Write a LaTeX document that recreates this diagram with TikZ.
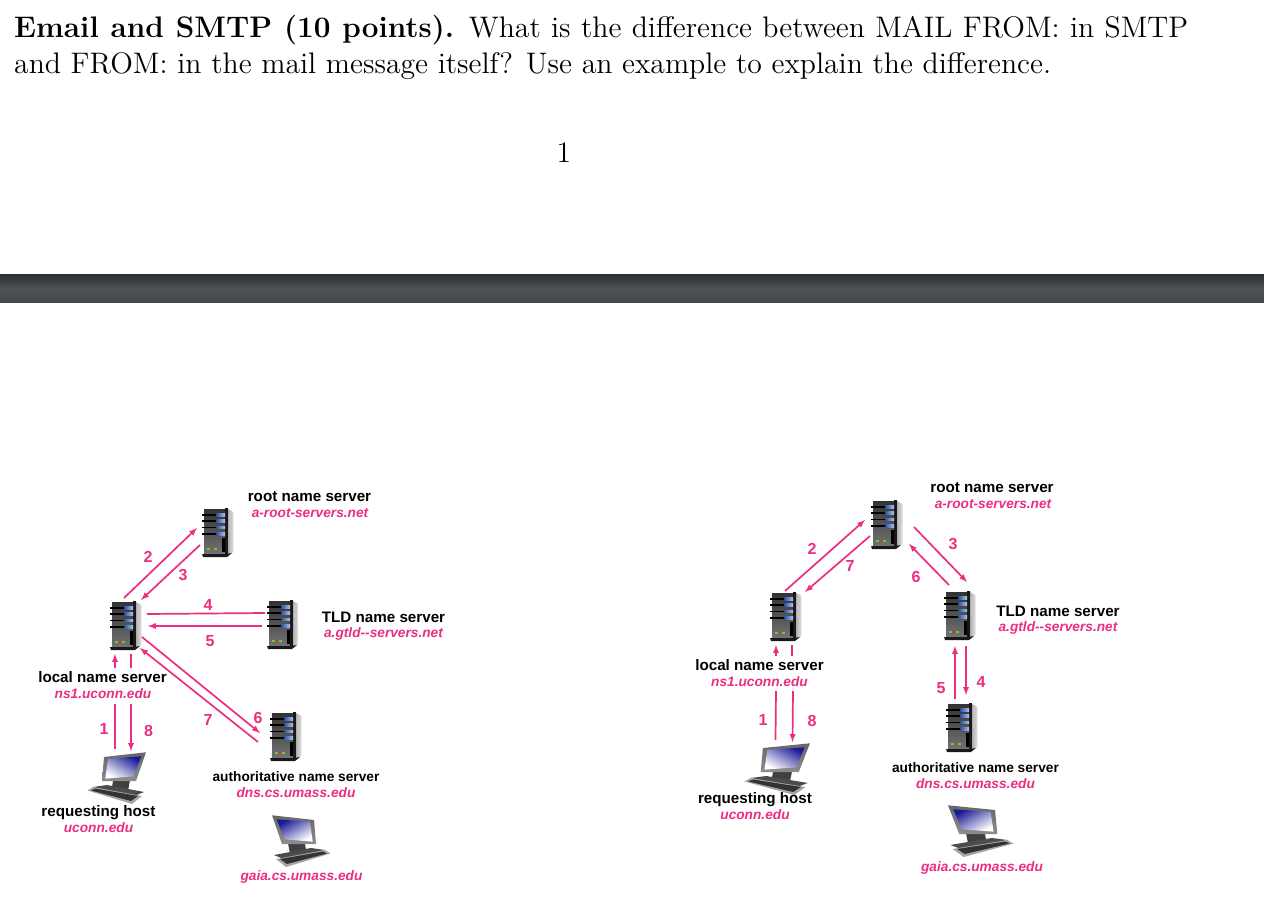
\documentclass[tikz,border=0pt]{standalone}
\usepackage{fontspec}
\usetikzlibrary{arrows,positioning,calc}
\newfontfamily\labelfont{Liberation Sans}
\newfontfamily\examfont{lmroman12-regular.otf}[BoldFont=lmroman12-bold.otf]
\definecolor{dnspink}{RGB}{236,46,130}
\definecolor{bandmid}{RGB}{78,82,85}
\definecolor{banddark}{RGB}{44,46,49}
\definecolor{slotblue}{RGB}{60,110,225}
\definecolor{screenblue}{RGB}{25,25,150}
\definecolor{ledgreen}{RGB}{95,205,70}
\definecolor{ledred}{RGB}{225,50,40}
\tikzset{
    hostname/.style={font=\labelfont\bfseries\fontsize{15.2}{17}\selectfont, text=black, inner sep=0pt},
    authname/.style={font=\labelfont\bfseries\fontsize{13.7}{15}\selectfont, text=black, inner sep=0pt},
    domainlabel/.style={font=\labelfont\bfseries\itshape\fontsize{13.7}{15}\selectfont, text=dnspink, inner sep=0pt},
    stepnum/.style={font=\labelfont\bfseries\fontsize{16}{18}\selectfont, text=dnspink, inner sep=0pt},
    msg/.style={draw=dnspink, line width=1.7pt},
    msgarrow/.style={msg, -latex},
    spot/.style={inner sep=0pt, minimum width=30pt, minimum height=48pt},
    servericon/.pic={
        % side panel, front panel, foot
        \shade[left color=gray!80, right color=gray!20] (9,-24) -- (16.5,-20) -- (16.5,20) -- (9,24) -- cycle;
        \fill[gray!45] (11.5,-18) rectangle (15,-13);
        \fill[gray!45] (11.5,-11) rectangle (15,-6);
        \fill[gray!45] (11.5,-4) rectangle (15,1);
        \shade[top color=black!80, bottom color=black!55] (-13,-23) rectangle (9,22);
        \fill[black!90] (8,-24) rectangle (10.5,23);
        \fill[black!90] (-15,22) -- (9,22) -- (15,21) -- (10,25) -- (-14,25) -- cycle;
        % drive slots
        \foreach \slot in {-17,-11,-4.5,2} {
            \fill[black] (-15,\slot-0.8) rectangle (-1,\slot+0.8);
            \shade[left color=slotblue!70!black, right color=slotblue!40!white] (-1,\slot-1.4) rectangle (8,\slot+1.4);
        }
        \fill[black] (5,6) rectangle (8,20);
        \fill[ledgreen] (-10.5,15.5) rectangle (-7.5,18);
        \fill[ledred] (-7,15.5) rectangle (-4,18);
        \fill[ledgreen] (-3.5,15.5) rectangle (-0.5,18);
    },
    hosticon/.pic={
        % stand, base and keyboard
        \fill[black!75] (-13,2) -- (4,3) -- (5,9) -- (-11,13) -- cycle;
        \fill[black!70] (-27,14) -- (10,7) -- (24,9) -- (-15,19) -- cycle;
        \fill[black!35] (-25,18) -- (24,9) -- (29.5,12.5) -- (-15,26) -- cycle;
        \fill[black!80] (-21,18) -- (22,10.5) -- (26,12.5) -- (-14,23) -- cycle;
        % screen
        \shade[top color=black!60, bottom color=black!45] (-29,-25.7) -- (13,-21) -- (15,3) -- (-19,3) -- cycle;
        \shade[top color=screenblue, bottom color=white, shading angle=#1] (-24.3,-21.7) -- (9,-19.3) -- (11.7,0.7) -- (-16.7,-1.7) -- cycle;
    },
}
\begin{document}
\begin{tikzpicture}[x=1pt,y=-1pt]
\useasboundingbox (0,0) rectangle (1264,904);
\fill[white] (0,0) rectangle (1264,904);

\node[anchor=north west, inner sep=0pt, text width=1240pt, align=left, font=\examfont\fontsize{29.7}{36}\selectfont] (question) at (14,15) {
    \spaceskip=0pt\xspaceskip=0pt
    \hbox to 1174pt{\textbf{Email and SMTP (10 points).} What is the difference between MAIL FROM: in SMTP}\\
    and FROM: in the mail message itself? Use an example to explain the difference.
};
\node[inner sep=0pt, font=\examfont\fontsize{29.7}{36}\selectfont] (pagenum) at (564,153) {1};

\shade[top color=banddark, bottom color=bandmid!90!black, middle color=bandmid] (0,274) rectangle (1264,302);

% left picture: iterated
\node[spot] (rootL) at (217,532) {};
\node[spot] (tldL) at (282,624) {};
\node[spot] (localL) at (125,625) {};
\node[spot] (authL) at (285,736) {};
\node[spot] (hostL) at (117,778) {};
\node[spot] (gaiaL) at (301,841) {};
\pic at (rootL) {servericon};
\pic at (tldL) {servericon};
\pic at (localL) {servericon};
\pic at (authL) {servericon};
\pic[xscale=-1] at (hostL) {hosticon=-30};
\pic at (gaiaL) {hosticon=30};

\node[hostname] (rootnameL) at (309.5,497) {root name server};
\node[domainlabel] (rootdomL) at (310,513) {a-root-servers.net};
\node[hostname] (tldnameL) at (383.5,617) {TLD name server};
\node[domainlabel] (tlddomL) at (383.5,634) {a.gtld{-}{-}servers.net};
\node[hostname] (localnameL) at (102.5,677) {local name server};
\node[domainlabel] (localdomL) at (103,693.5) {ns1.uconn.edu};
\node[hostname] (hostnameL) at (98.5,812.5) {requesting host};
\node[domainlabel] (hostdomL) at (98.5,828) {uconn.edu};
\node[authname] (authnameL) at (296,776.5) {authoritative name server};
\node[domainlabel] (authdomL) at (296,793) {dns.cs.umass.edu};
\node[domainlabel] (gaiadomL) at (301.5,877) {gaia.cs.umass.edu};

\draw[msg] ([shift={(-2,-29)}]hostL.center) -- ([shift={(-10,79)}]localL.center);
\draw[msgarrow] ([shift={(-10,43)}]localL.center) -- ([shift={(-10,29)}]localL.center);
\draw[msg] ([shift={(6,29)}]localL.center) -- ([shift={(6,43)}]localL.center);
\draw[msgarrow] ([shift={(6,79)}]localL.center) -- ([shift={(14,-27)}]hostL.center);
\draw[msgarrow] ([shift={(-1,-27)}]localL.center) -- ([shift={(-20,-4)}]rootL.center);
\draw[msgarrow] ([shift={(-17,13)}]rootL.center) -- ([shift={(16,-25)}]localL.center);
\draw[msg] ([shift={(22,-11)}]localL.center) -- ([shift={(-17,-11)}]tldL.center);
\draw[msgarrow] ([shift={(-20,2)}]tldL.center) -- ([shift={(23,1)}]localL.center);
\draw[msgarrow] ([shift={(17,12)}]localL.center) -- ([shift={(-25,-3)}]authL.center);
\draw[msgarrow] ([shift={(-27,6)}]authL.center) -- ([shift={(15,23)}]localL.center);

\node[stepnum] (s1L) at (104,729) {1};
\node[stepnum] (s2L) at (148,557) {2};
\node[stepnum] (s3L) at (183,575) {3};
\node[stepnum] (s4L) at (208,605) {4};
\node[stepnum] (s5L) at (210,641) {5};
\node[stepnum] (s6L) at (258,718) {6};
\node[stepnum] (s7L) at (208,720) {7};
\node[stepnum] (s8L) at (148.5,731) {8};

% right picture: recursive
\node[spot] (rootR) at (886,524) {};
\node[spot] (tldR) at (959,615) {};
\node[spot] (localR) at (785,616) {};
\node[spot] (authR) at (961,727) {};
\node[spot] (hostR) at (777.5,769) {};
\node[spot] (gaiaR) at (980.5,831) {};
\pic at (rootR) {servericon};
\pic at (tldR) {servericon};
\pic at (localR) {servericon};
\pic at (authR) {servericon};
\pic[xscale=-1.12] at (hostR) {hosticon=-30};
\pic[xscale=1.12] at (gaiaR) {hosticon=30};

\node[hostname] (rootnameR) at (992,488) {root name server};
\node[domainlabel] (rootdomR) at (993,504) {a-root-servers.net};
\node[hostname] (tldnameR) at (1058,611) {TLD name server};
\node[domainlabel] (tlddomR) at (1058,628) {a.gtld{-}{-}servers.net};
\node[hostname] (localnameR) at (759.5,665) {local name server};
\node[domainlabel] (localdomR) at (759.5,681.5) {ns1.uconn.edu};
\node[hostname] (hostnameR) at (755,799.5) {requesting host};
\node[domainlabel] (hostdomR) at (755,815) {uconn.edu};
\node[authname] (authnameR) at (975.5,767.5) {authoritative name server};
\node[domainlabel] (authdomR) at (975.5,784) {dns.cs.umass.edu};
\node[domainlabel] (gaiadomR) at (982,868) {gaia.cs.umass.edu};

\draw[msg] ([shift={(-2,-29)}]hostR.center) -- ([shift={(-9,75)}]localR.center);
\draw[msgarrow] ([shift={(-9,40)}]localR.center) -- ([shift={(-9,29)}]localR.center);
\draw[msg] ([shift={(7,29)}]localR.center) -- ([shift={(7,40)}]localR.center);
\draw[msgarrow] ([shift={(8,75)}]localR.center) -- ([shift={(15,-27)}]hostR.center);
\draw[msgarrow] ([shift={(0,-25)}]localR.center) -- ([shift={(-21,-4)}]rootR.center);
\draw[msgarrow] ([shift={(-16,12)}]rootR.center) -- ([shift={(20,-24)}]localR.center);
\draw[msgarrow] ([shift={(28,3)}]rootR.center) -- ([shift={(8,-33)}]tldR.center);
\draw[msgarrow] ([shift={(-10,-30)}]tldR.center) -- ([shift={(23,20)}]rootR.center);
\draw[msgarrow] ([shift={(-6,-28)}]authR.center) -- ([shift={(-4,31)}]tldR.center);
\draw[msgarrow] ([shift={(7,31)}]tldR.center) -- ([shift={(5,-32)}]authR.center);

\node[stepnum] (s1R) at (763,720) {1};
\node[stepnum] (s2R) at (812,549) {2};
\node[stepnum] (s3R) at (953,544) {3};
\node[stepnum] (s4R) at (981,682) {4};
\node[stepnum] (s5R) at (941,688) {5};
\node[stepnum] (s6R) at (916,577) {6};
\node[stepnum] (s7R) at (850,566) {7};
\node[stepnum] (s8R) at (812,721) {8};
\end{tikzpicture}
\end{document}
